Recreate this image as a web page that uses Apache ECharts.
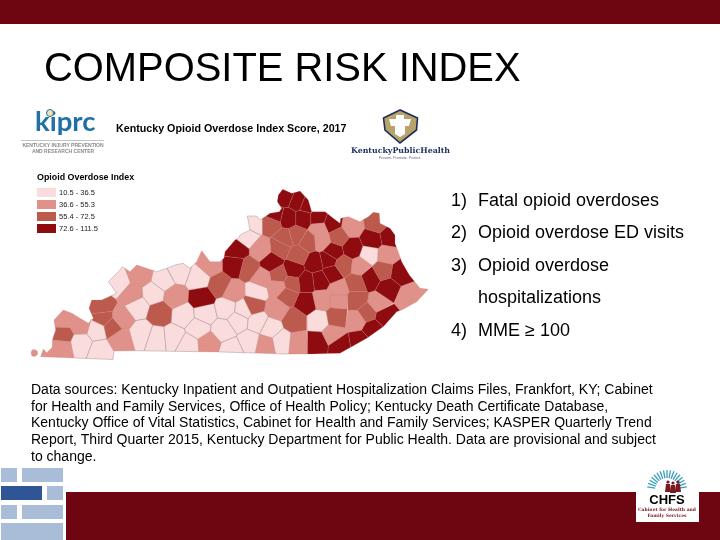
<!DOCTYPE html>
<html>
<head>
<meta charset="utf-8">
<style>html,body{margin:0;padding:0;background:#fff}#chart1{width:720px;height:540px}</style>
<script src="https://cdn.jsdelivr.net/npm/echarts@6/dist/echarts.min.js"></script>
</head>
<body>
<div id="chart1"></div>
<script>
// rough centre of each county on the map, in map units, listed by the shade it has in the picture
const lowestCounties = [[80.7,343],[97.3,330],[100.7,350.7],[118.3,283.3],[137.3,306.7],[141.7,333.3],[156.7,338.3],[173.3,336.7],[153.3,293.3],[163.3,280],[179.3,271.7],[198.3,278.3],[183.3,315],[198.3,328.3],[188.3,345],[205,313.3],[223.3,330],[231.7,350],[243,310],[226.7,308.3],[256.7,291.7],[238,320],[258,322],[270,328.3],[250,341.7],[253.3,223.3],[246.7,236.7],[369.3,254],[318.3,320],[281.7,341.7]];
const lowCounties = [[56.7,354],[61.7,346.7],[63,320],[80,325],[121.7,318.3],[120,339.3],[140,275],[131.7,295],[175,296.7],[210,265],[208.3,343.3],[265,345],[233,291.7],[261.7,250],[261.7,278.3],[319.3,228.3],[321.7,240.7],[351.7,226.7],[386.7,255],[360,266.7],[338.3,290],[338.3,300],[321.7,300],[278.3,287.3],[276.7,308.3],[356.7,320],[378.3,303.3],[408.3,296.7],[333.3,335],[298.3,343.3]];
const highCounties = [[62.7,335],[101.7,307],[103,318],[111.7,327],[160,313.3],[220,285],[253.3,305],[248.3,268.3],[271.7,223.3],[285,238.3],[296.7,235],[308,241.7],[280,248],[298.3,255],[279.3,275],[338.3,236.7],[343.3,265],[376.7,223.3],[383.3,270.7],[356.7,283.3],[356.7,300],[367,313],[286.7,295],[291.7,283.3],[295,320],[336.7,316.7]];
const highestCounties = [[201.7,298.3],[235,265],[236.7,250],[271.7,261.7],[293.3,270],[306.7,281.7],[315,263],[328.3,260],[333.3,251.7],[331.7,273.3],[320,280],[275,215],[285,196.7],[298,201.7],[306.7,205],[288.3,218.3],[303.3,218.3],[318.3,218.3],[331.7,223.3],[352.7,248.3],[371.7,240],[390,236.7],[400,273.3],[370,278.3],[388.3,288.3],[306.7,303.3],[385,316.7],[373,329],[360,341.7],[340,345],[316.7,343.3]];
// estimated score for each shade
const bandScores = [28, 46, 64, 88];

const stateOutline = [
  [40.7,356.7],[43.3,349],[46.7,352.7],[52.3,347.3],[52.3,341.7],[53.3,336.7],[55.7,330],[54,320],[63.3,310],[71.7,313.3],[88.3,323.3],[93.3,318.3],[89,308.3],[91.7,300],[101.7,300],[116.7,293.3],[108.3,281.7],[120,270],[122.3,266.7],[130,271.7],[136.7,265],[151.7,270],[156.7,271.7],[166.7,268.3],[175,265],[183.3,263.3],[190,268.3],[196.7,261.7],[201.7,250.7],[210,261.7],[220,261.7],[224,258],[225,251.7],[235,240],[238.3,238.3],[240,235],[250,230],[247.3,216],[256.7,216],[260,220],[270,213.3],[279.3,211.7],[281.7,208.3],[277.3,201.7],[278.3,195],[282.7,189.3],[291.7,193.3],[300,191],[308.3,200],[311.7,211.7],[325,211.7],[333.3,218.3],[340,223.3],[340.7,218.3],[348.3,216.7],[360,221.7],[368.3,216.7],[373.3,212.3],[379.3,213.3],[380,223.3],[390,228.3],[395,235],[395,243.3],[401.7,261.7],[409.3,275],[420,288.3],[428.3,289.3],[416.7,301.7],[401.7,310],[396.7,311.7],[383.3,326.7],[366.7,338.3],[351.7,346.7],[340,353.3],[311.7,354],[283,354],[221.7,352],[133.3,350.7],[113,351],[113,359.5],[75,358],[40.7,356.7]
];
const bendOutline = [[31,353],[32,350],[35,349.5],[37.5,351.5],[37.5,354.5],[35,356.5],[32,356]];
const bendScore = 46;

const legendRanges = [
  {min:10.5, max:36.5, label:"10.5 - 36.5", color:"#fbdcdc"},
  {min:36.6, max:55.3, label:"36.6 - 55.3", color:"#e0918a"},
  {min:55.4, max:72.5, label:"55.4 - 72.5", color:"#bd5a4e"},
  {min:72.6, max:111.5, label:"72.6 - 111.5", color:"#8e0b10"}
];
// county edge colour for each shade, the dark ones barely show an edge
const bandBorders = ["rgba(130,115,115,0.7)", "rgba(205,125,115,0.6)", "rgba(205,120,110,0.45)", "rgba(215,130,130,0.4)"];
const riskFactors = [
  ["1)", "Fatal opioid overdoses", 201],
  ["2)", "Opioid overdose ED visits", 233],
  ["3)", "Opioid overdose", 266],
  ["", "hospitalizations", 298],
  ["4)", "MME \u2265 100", 331]
];
const sourceLines = [
  "Data sources: Kentucky Inpatient and Outpatient Hospitalization Claims Files, Frankfort, KY; Cabinet",
  "for Health and Family Services, Office of Health Policy; Kentucky Death Certificate Database,",
  "Kentucky Office of Vital Statistics, Cabinet for Health and Family Services; KASPER Quarterly Trend",
  "Report, Third Quarter 2015, Kentucky Department for Public Health. Data are provisional and subject",
  "to change."
];

const darkRed = "#6e0611";
const bands = [lowestCounties, lowCounties, highCounties, highestCounties];

// cut the state outline down to the part nearest to one county centre
const clipHalf = (poly, a, b) => {
  const out = [];
  const mx = (a[0]+b[0])/2, my = (a[1]+b[1])/2, nx = b[0]-a[0], ny = b[1]-a[1];
  const side = p => (p[0]-mx)*nx + (p[1]-my)*ny;
  for (let i = 0; i < poly.length; i++) {
    const p = poly[i], q = poly[(i+1)%poly.length];
    const sp = side(p), sq = side(q);
    if (sp <= 0) out.push(p);
    if ((sp < 0 && sq > 0) || (sp > 0 && sq < 0)) {
      const t = sp/(sp-sq);
      out.push([p[0]+(q[0]-p[0])*t, p[1]+(q[1]-p[1])*t]);
    }
  }
  return out;
};

const buildCounties = () => {
  const features = [], data = [];
  const all = [];
  bands.forEach((list, b) => list.forEach(c => all.push({c, band:b})));
  all.forEach((item, i) => {
    let poly = stateOutline.slice(0, -1);
    all.forEach((o, j) => { if (j !== i && poly.length) poly = clipHalf(poly, item.c, o.c); });
    if (poly.length < 3) return;
    features.push({type:"Feature", properties:{name:"county"+i}, geometry:{type:"Polygon", coordinates:[poly.concat([poly[0]])]}});
    data.push({name:"county"+i, value:bandScores[item.band], itemStyle:{borderColor:bandBorders[item.band]}});
  });
  features.push({type:"Feature", properties:{name:"bend"}, geometry:{type:"Polygon", coordinates:[bendOutline.concat([bendOutline[0]])]}});
  data.push({name:"bend", value:bendScore, itemStyle:{borderColor:bandBorders[1]}});
  return {geo:{type:"FeatureCollection", features}, data};
};

const label = (x, y, text, font, extra) => ({
  type:"text", x, y, silent:true,
  style:Object.assign({text, fill:"#000", font, textVerticalAlign:"middle"}, extra || {})
});
const box = (x, y, w, h, fill) => ({type:"rect", silent:true, shape:{x, y, width:w, height:h}, style:{fill}});

const buildGraphics = () => {
  const g = [];
  g.push(box(0,0,720,24,darkRed), box(66,492,654,48,darkRed));
  // brick pattern
  const light = "#a9bcd8";
  g.push(box(1,468,16,14,light), box(22,468,41,14,light), box(1,486,41,14,"#2f5597"), box(47,486,16,14,light),
         box(1,505,16,14,light), box(22,505,41,14,light), box(1,523,62,17,light));
  // kiprc logo
  g.push(label(35,122,"kiprc","bold 27.5px Lato",{fill:"#1f6fa8"}));
  g.push({type:"circle", silent:true, shape:{cx:50,cy:113,r:3.5}, style:{fill:"#f0e4a8",stroke:"#1f6fa8",lineWidth:1}});
  g.push({type:"line", silent:true, shape:{x1:21,y1:140.5,x2:104,y2:140.5}, style:{stroke:"#b5b5b5",lineWidth:0.8}});
  g.push(label(63,146,"KENTUCKY INJURY PREVENTION","bold 5px 'Liberation Sans'",{fill:"#8a8a8a",textAlign:"center"}));
  g.push(label(63,152,"AND RESEARCH CENTER","bold 5px 'Liberation Sans'",{fill:"#8a8a8a",textAlign:"center"}));
  g.push(label(116,129,"Kentucky Opioid Overdose Index Score, 2017","bold 10.7px 'Liberation Sans'"));
  // public health shield
  g.push({type:"polygon", silent:true, shape:{points:[[400,110],[383.5,118],[385,130],[400,143],[416.5,130],[417.5,118]]}, style:{fill:"#b8a46a",stroke:"#1c2f5c",lineWidth:1.6}});
  g.push({type:"polygon", silent:true, shape:{points:[[396,115],[404,115],[404,119],[411,119],[409,126],[405,126],[405,134],[400,137],[395,134],[395,126],[391,126],[389,119],[396,119]]}, style:{fill:"#fff"}});
  g.push(label(351,150.5,"KentuckyPublicHealth","bold 7.85px 'DejaVu Serif'",{fill:"#1c2f5c"}));
  g.push(label(400,157.5,"Prevent. Promote. Protect.","3.6px 'Liberation Sans'",{fill:"#666",textAlign:"center"}));
  g.push(label(37,178,"Opioid Overdose Index","bold 8.9px 'Liberation Sans'"));
  // right hand list
  riskFactors.forEach(r => {
    if (r[0]) g.push(label(451,r[2],r[0],"18px 'Liberation Sans'"));
    g.push(label(478,r[2],r[1],"18px 'Liberation Sans'"));
  });
  // sources
  sourceLines.forEach((s, i) => g.push(label(31,390+i*16.8,s,"14px 'Liberation Sans'")));
  // CHFS logo
  g.push(box(636,466,63,56,"#fff"));
  for (let i = 0; i <= 16; i++) {
    const a = Math.PI*(1.05+0.9*i/16);
    g.push({type:"line", silent:true, shape:{x1:667+Math.cos(a)*12,y1:490+Math.sin(a)*12,x2:667+Math.cos(a)*20,y2:490+Math.sin(a)*20}, style:{stroke:"#3a9fbd",lineWidth:1.3}});
  }
  [[668,482],[673,483],[678,482]].forEach(p => {
    g.push({type:"circle", silent:true, shape:{cx:p[0],cy:p[1],r:1.6}, style:{fill:"#7a1a20"}});
    g.push({type:"polygon", silent:true, shape:{points:[[p[0]-2,p[1]+2],[p[0]+2,p[1]+2],[p[0]+3,p[1]+10],[p[0]-3,p[1]+10]]}, style:{fill:"#7a1a20"}});
  });
  g.push(label(667,500.5,"CHFS","bold 13px 'Liberation Sans'",{textAlign:"center"}));
  g.push(label(667,509.5,"Cabinet for Health and","bold 4.5px 'DejaVu Serif'",{fill:"#7a1a20",textAlign:"center"}));
  g.push(label(667,516,"Family Services","bold 4.5px 'DejaVu Serif'",{fill:"#7a1a20",textAlign:"center"}));
  return g;
};

document.addEventListener('DOMContentLoaded', function () {
  const counties = buildCounties();
  echarts.registerMap("kentucky", counties.geo);

  const chart1 = echarts.init(document.getElementById("chart1"));
  chart1.setOption({
    animation:false,
    backgroundColor:"#fff",
    title:{text:"COMPOSITE RISK INDEX", left:44, top:50, padding:0,
      textStyle:{fontFamily:"Liberation Sans", fontWeight:"normal", fontSize:39.9, color:"#000"}},
    visualMap:{type:"piecewise", left:37, top:188, orient:"vertical", padding:0, inverse:true,
      itemWidth:19, itemHeight:9, itemGap:3, itemSymbol:"rect", hoverLink:false, selectedMode:false,
      textGap:3, textStyle:{fontSize:7.5, fontFamily:"Liberation Sans", color:"#222"},
      pieces:legendRanges, seriesIndex:0},
    series:[{type:"map", map:"kentucky", silent:true, roam:false, selectedMode:false,
      left:31, top:189.3, width:397.3, height:170.2,
      projection:{project:p => p, unproject:p => p},
      label:{show:false},
      itemStyle:{borderWidth:0.5},
      data:counties.data}],
    graphic:buildGraphics()
  });
});
</script>
</body>
</html>
